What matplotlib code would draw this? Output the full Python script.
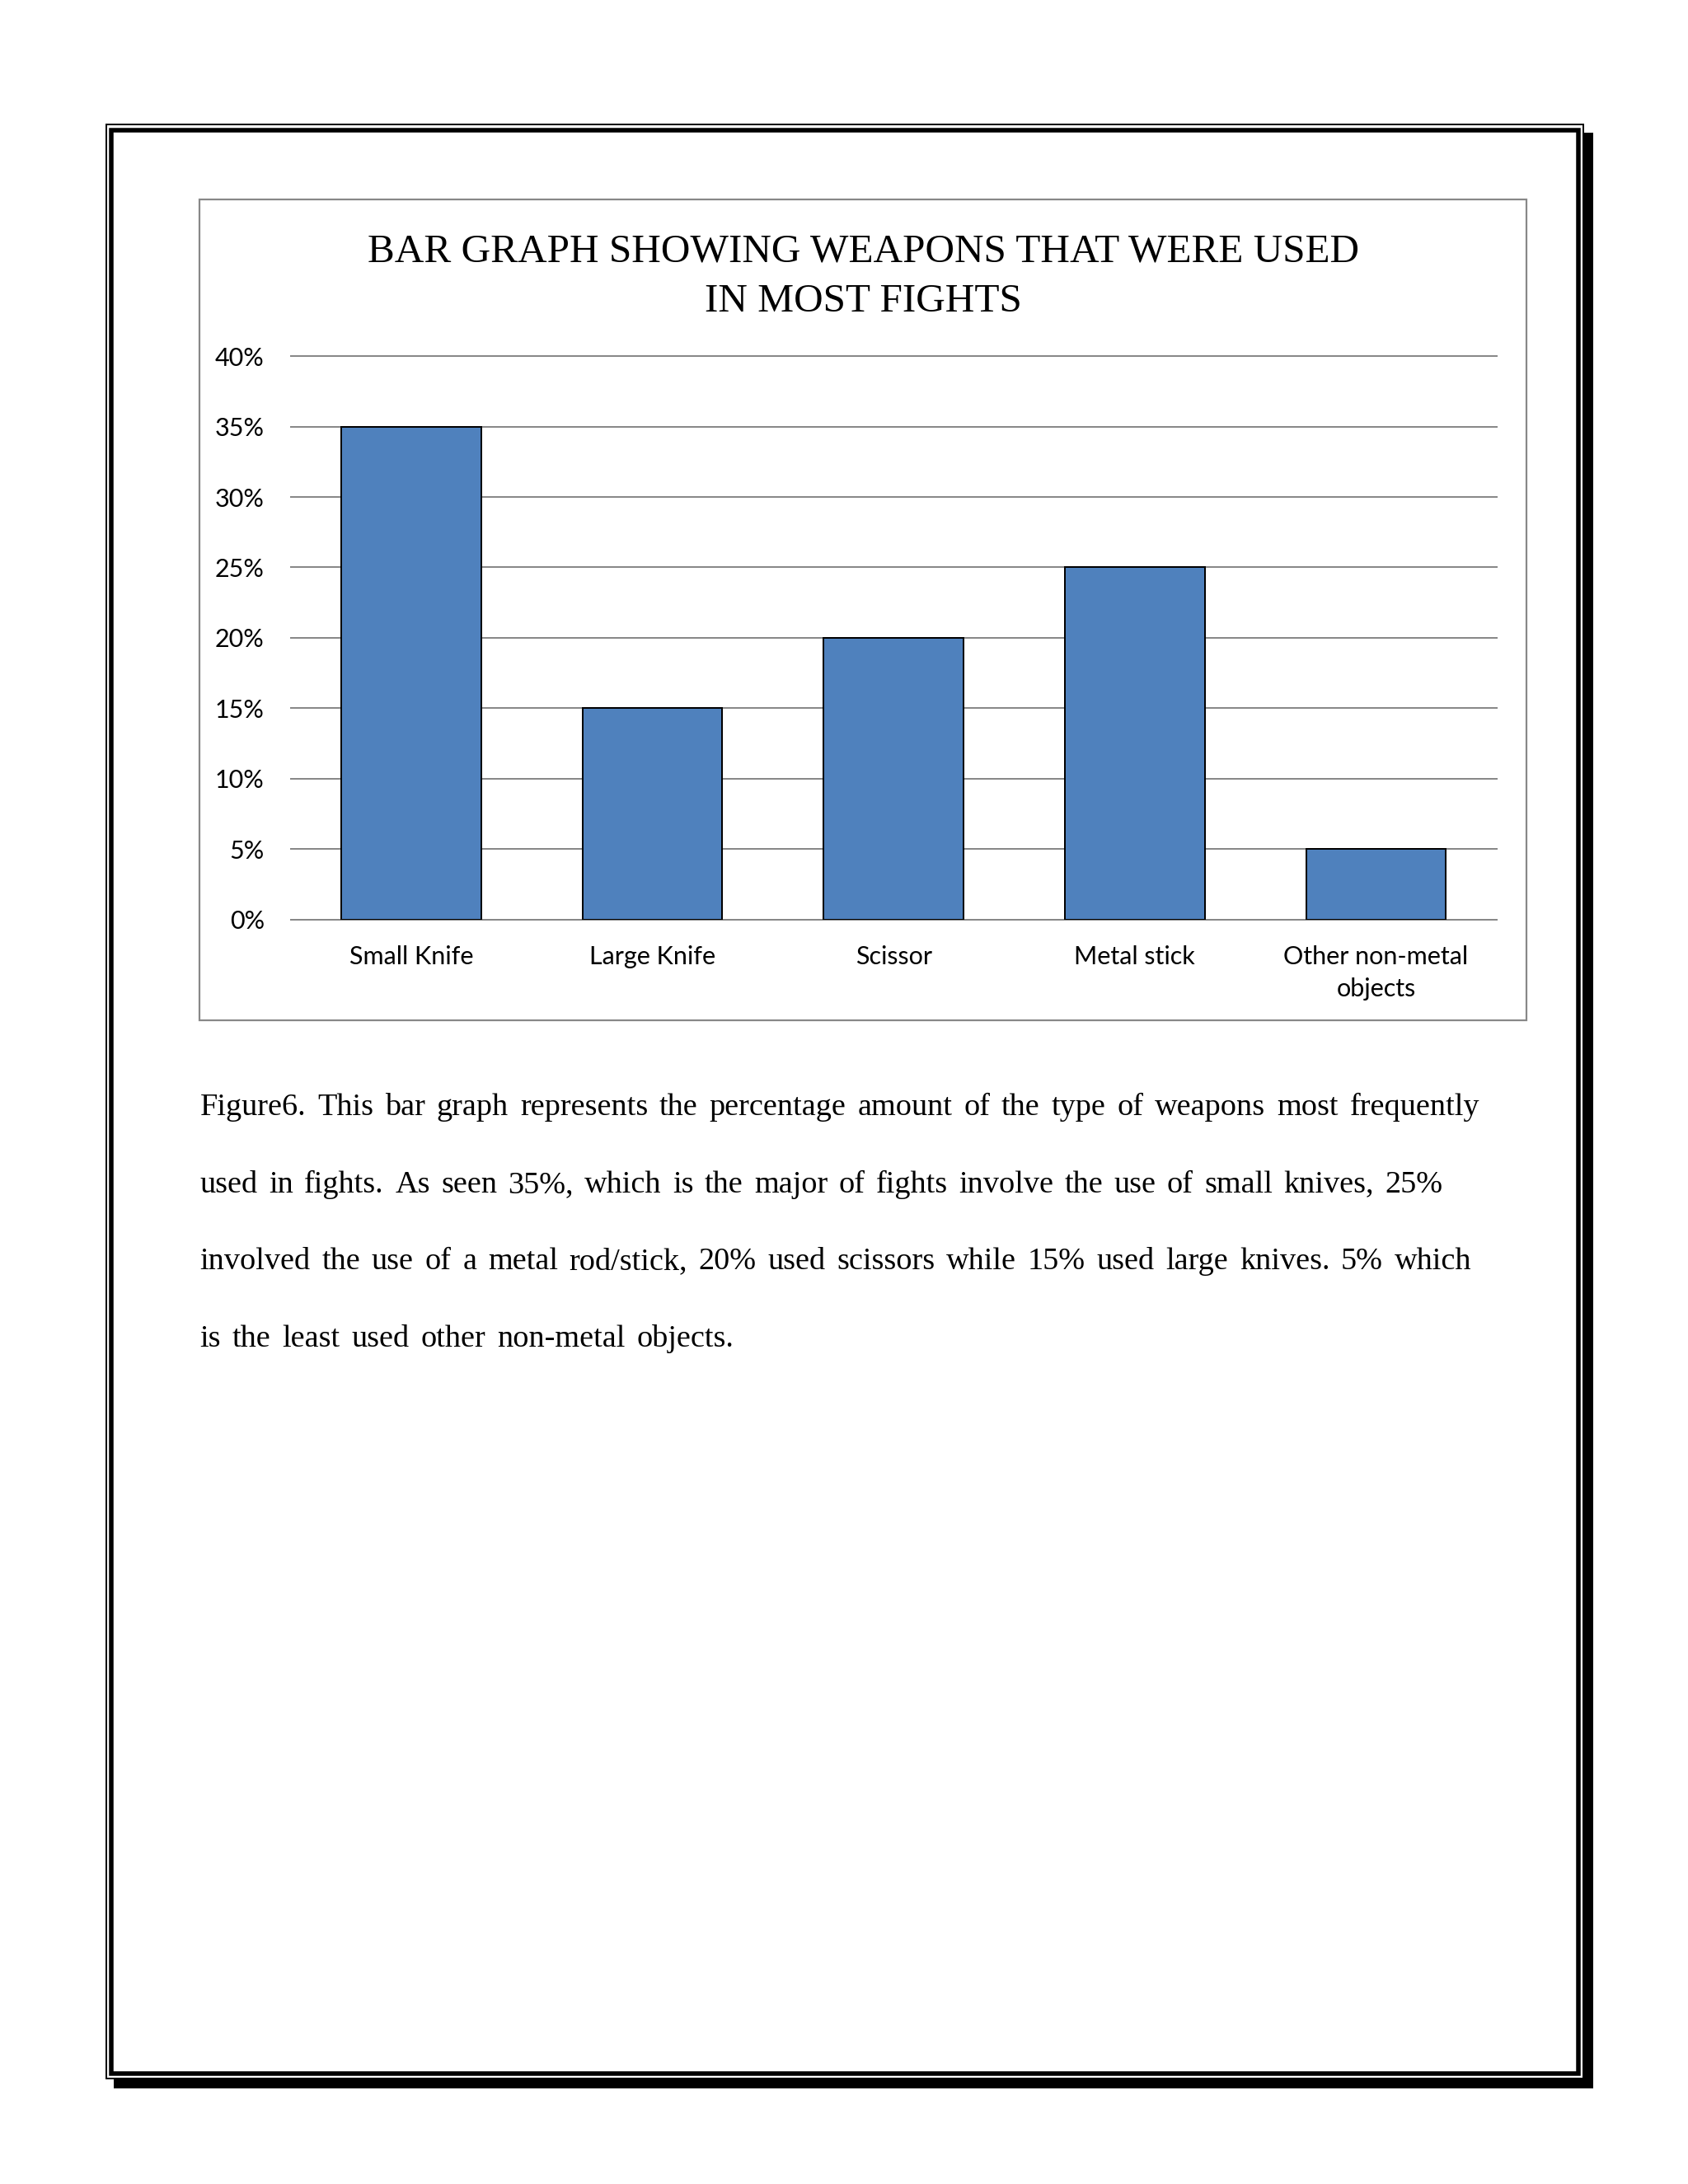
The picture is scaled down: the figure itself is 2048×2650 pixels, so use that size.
import matplotlib
matplotlib.use("Agg")
import matplotlib.pyplot as plt
from matplotlib.patches import Rectangle
from matplotlib.ticker import FuncFormatter

# data
categories = ["Small Knife", "Large Knife", "Scissor", "Metal stick", "Other non-metal\nobjects"]
share = [35, 15, 20, 25, 5]
yticks = [0, 5, 10, 15, 20, 25, 30, 35, 40]
title_lines = ["BAR GRAPH SHOWING WEAPONS THAT WERE USED", "IN MOST FIGHTS"]
caption = [
    "Figure6. This bar graph represents the percentage amount of the type of weapons most frequently",
    "used in fights. As seen 35%, which is the major of fights involve the use of small knives, 25%",
    "involved the use of a metal rod/stick, 20% used scissors while 15% used large knives. 5% which",
    "is the least used other non-metal objects.",
]

W, H = 2048, 2650
PX = 0.72  # pixel -> point at dpi 100

fig = plt.figure(figsize=(W / 100, H / 100), dpi=100)
fig.patch.set_facecolor("white")

# page layer in pixel coordinates
page = fig.add_axes([0, 0, 1, 1])
page.set_xlim(0, W)
page.set_ylim(H, 0)
page.axis("off")

# page border: thin line, thick line, shadow
page.add_patch(Rectangle((129, 151), 1921 - 129, 2522 - 151, fill=False, ec="black", lw=2 * PX))
page.add_patch(Rectangle((135, 158), 1914.5 - 135, 2515.5 - 158, fill=False, ec="black", lw=5.5 * PX))
page.add_patch(Rectangle((1921, 161), 12, 2534 - 161, fc="black", ec="none"))
page.add_patch(Rectangle((138, 2522), 1933 - 138, 12, fc="black", ec="none"))

# chart frame
page.add_patch(Rectangle((242, 242), 1852 - 242, 1238 - 242, fill=False, ec="#888888", lw=2.2 * PX))

# chart title
page.text(1047, 317, title_lines[0], ha="center", va="baseline", fontsize=35.5,
          family="Liberation Serif", color="black")
page.text(1047, 378, title_lines[1], ha="center", va="baseline", fontsize=35.5,
          family="Liberation Serif", color="black")

# bar chart
x0, x1, y0, y1 = 352.7, 1815.7, 1115.5, 432.3
ax = fig.add_axes([x0 / W, 1 - y0 / H, (x1 - x0) / W, (y0 - y1) / H])
ax.set_facecolor("none")
ax.bar(range(len(share)), share, width=0.58, color="#4f81bd", edgecolor="black",
       linewidth=2 * PX, zorder=3)
ax.set_xlim(-0.5, len(share) - 0.5)
ax.set_ylim(0, 40)
ax.set_yticks(yticks)
ax.yaxis.set_major_formatter(FuncFormatter(lambda v, p: f"{v:.0f}%"))
ax.set_xticks(range(len(categories)))
ax.set_xticklabels(categories, linespacing=1.45)
for s in ax.spines.values():
    s.set_visible(False)
ax.yaxis.grid(True, color="#888888", linewidth=2 * PX)
ax.set_axisbelow(True)
for gl in ax.get_ygridlines():
    gl.set_clip_on(False)
ax.tick_params(axis="both", length=0, labelsize=22, colors="black")
ax.tick_params(axis="y", pad=23)
ax.tick_params(axis="x", pad=23)
for lbl in ax.get_xticklabels() + ax.get_yticklabels():
    lbl.set_family("Lato")
for lbl in ax.get_xticklabels():
    lbl.set_verticalalignment("top")
    lbl.set_multialignment("center")

# caption, spread word by word to the measured line ends
cap_left = 242.7
cap_right = [1795, 1750, 1785, 890]
cap_base = [1353, 1447, 1540, 1634]
cap_size = 27.5
renderer = fig.canvas.get_renderer()
for line, right, base in zip(caption, cap_right, cap_base):
    words = line.split(" ")
    arts = [page.text(0, base, w, ha="left", va="baseline", fontsize=cap_size,
                      family="Liberation Serif", color="black") for w in words]
    widths = [a.get_window_extent(renderer).width for a in arts]
    gap = (right - cap_left - sum(widths)) / (len(words) - 1)
    x = cap_left
    for a, w in zip(arts, widths):
        a.set_x(x)
        x += w + gap

fig.savefig("out.png", dpi=100, facecolor="white")
